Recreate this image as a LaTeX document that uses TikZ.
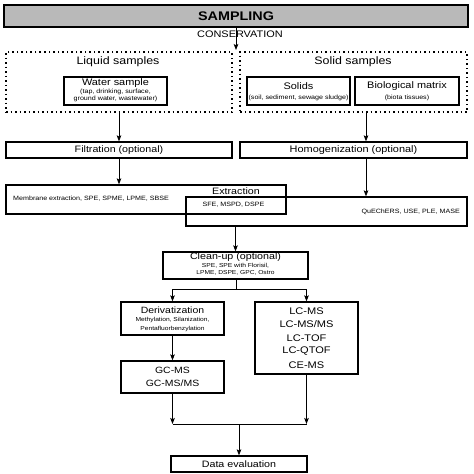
\documentclass[tikz,border=0pt]{standalone}
\usepackage{fontspec}
\setmainfont[FakeStretch=1.15]{Liberation Sans}
\usepackage{tikz}
\usetikzlibrary{arrows.meta,shapes,calc}
\usetikzlibrary{positioning}
\newcommand\fs[1]{\fontsize{#1}{#1}\selectfont}
\tikzset{
    %Define standard arrow tip
    >={Stealth[length=6pt,width=4.6pt,inset=1.2pt]},
    % Define box style
    boks/.style={
           draw,
           line width=1.3pt,
           inner sep=0pt,},
    prikk/.style={
           draw,
           line width=1.3pt,
           dash pattern=on 1.5pt off 3pt,
           inner sep=0pt,},
    % Define text style
    tekst/.style={
           inner sep=0pt,},
    % Define arrow style
    pil/.style={
           ->,
           line width=0.8pt,},
    strek/.style={
           line width=0.8pt,}
}
\begin{document}
\begin{tikzpicture}[x=1pt,y=-1pt]
  \useasboundingbox (0,0) rectangle (474,474);
  \coordinate (j1) at (236,289);
  \coordinate (j2) at (239,424);
  \coordinate (c) at (236,50);
  % boxes
  \node (samp) at (236,16) [boks,fill=gray!55,minimum width=464pt,minimum height=22pt] {};
  \node (liq) at (119,82) [prikk,minimum width=226pt,minimum height=60pt] {};
  \node (sol) at (353.5,82) [prikk,minimum width=227pt,minimum height=60pt] {};
  \node (water) at (115.5,91) [boks,minimum width=103pt,minimum height=28pt] {};
  \node (solids) at (298.5,91) [boks,minimum width=103pt,minimum height=28pt] {};
  \node (bio) at (407,91) [boks,minimum width=104pt,minimum height=28pt] {};
  \node (filt) at (119,150) [boks,minimum width=226pt,minimum height=16pt] {\fs{9.3}Filtration (optional)};
  \node (homog) at (353.5,150) [boks,minimum width=227pt,minimum height=16pt] {\fs{9.5}Homogenization (optional)};
  \node (ext1) at (146,199.5) [boks,minimum width=280pt,minimum height=29pt] {};
  \node (ext2) at (326.5,211.5) [boks,minimum width=281pt,minimum height=29pt] {};
  \node (clean) at (235.5,265.5) [boks,minimum width=145pt,minimum height=27pt] {};
  \node (deriv) at (172.5,318.5) [boks,minimum width=103pt,minimum height=33pt] {};
  \node (lc) at (306.5,338) [boks,minimum width=103pt,minimum height=72pt] {};
  \node (gc) at (172.5,377) [boks,minimum width=103pt,minimum height=32pt] {};
  \node (data) at (239,464) [boks,minimum width=136pt,minimum height=16pt] {\fs{9.3}Data evaluation};
  % texts
  \node (sampt) at (236,16.5) [tekst] {\fs{12.5}\bfseries SAMPLING};
  \node (cons) at (240,34) [tekst] {\fs{9.5}CONSERVATION};
  \node (liqt) at (118,62) [tekst] {\fs{10.8}Liquid samples};
  \node (solt) at (353,62) [tekst] {\fs{10.8}Solid samples};
  \node (watert) at (115.5,83) [tekst] {\fs{9.5}Water sample};
  \node (waters1) at (115.5,91.5) [tekst] {\fs{6.2}(tap, drinking, surface,};
  \node (waters2) at (115.5,99) [tekst] {\fs{6.2}ground water, wastewater)};
  \node (solidst) at (298.5,86) [tekst] {\fs{9.5}Solids};
  \node (solidss) at (298.5,98) [tekst] {\fs{6.2}(soil, sediment, sewage sludge)};
  \node (biot) at (407,86) [tekst] {\fs{9.5}Biological matrix};
  \node (bios) at (407,98) [tekst] {\fs{6.2}(biota tissues)};
  \node (extt) at (236,191) [tekst] {\fs{9.3}Extraction};
  \node (ext1t) [tekst,anchor=west] at (13,199) {\fs{6.2}Membrane extraction, SPE, SPME, LPME, SBSE};
  \node (ext0t) at (233.5,205) [tekst] {\fs{6.2}SFE, MSPD, DSPE};
  \node (ext2t) [tekst,anchor=east] at (460,212) {\fs{6.2}QuEChERS, USE, PLE, MASE};
  \node (cleant) at (235.5,257) [tekst] {\fs{9.3}Clean-up (optional)};
  \node (cleans1) at (235.5,265.5) [tekst] {\fs{5.8}SPE, SPE with Florisil,};
  \node (cleans2) at (235.5,273) [tekst] {\fs{5.8}LPME, DSPE, GPC, Ostro};
  \node (derivt) at (172.5,310) [tekst] {\fs{9.1}Derivatization};
  \node (derivs1) at (172.5,320) [tekst] {\fs{5.8}Methylation, Silanization,};
  \node (derivs2) at (172.5,329) [tekst] {\fs{5.8}Pentafluorbenzylation};
  \node (lc1) at (306.5,311) [tekst] {\fs{9.6}LC-MS};
  \node (lc2) at (306.5,324.5) [tekst] {\fs{9.6}LC-MS/MS};
  \node (lc3) at (306.5,338) [tekst] {\fs{9.6}LC-TOF};
  \node (lc4) at (306.5,351.5) [tekst] {\fs{9.6}LC-QTOF};
  \node (lc5) at (306.5,365) [tekst] {\fs{9.6}CE-MS};
  \node (gc1) at (172.5,370) [tekst] {\fs{9.1}GC-MS};
  \node (gc2) at (172.5,383.5) [tekst] {\fs{9.1}GC-MS/MS};
  % arrows
  \draw [pil] (samp.south -| c) -- (c);
  \draw [pil] (liq.south) -- (liq.south |- filt.north);
  \draw [pil] ([xshift=12.5pt]sol.south) -- ([xshift=12.5pt]homog.north);
  \draw [pil] (filt.south) -- (filt.south |- ext1.north);
  \draw [pil] ([xshift=12.5pt]homog.south) -- ([xshift=12.5pt]homog.south |- ext2.north);
  \draw [pil] (clean.north |- ext2.south) -- (clean.north);
  \draw [strek] (clean.south -| j1) -- (j1);
  \draw [pil] (j1) -| (deriv.north);
  \draw [pil] (j1) -| (lc.north);
  \draw [pil] (deriv.south) -- (gc.north);
  \draw [pil] (gc.south) -- (gc.south |- j2);
  \draw [pil] (lc.south) -- (lc.south |- j2);
  \draw [strek] (gc.south |- j2) -- (lc.south |- j2);
  \draw [pil] (j2) -- (data.north);
\end{tikzpicture}
\end{document}
